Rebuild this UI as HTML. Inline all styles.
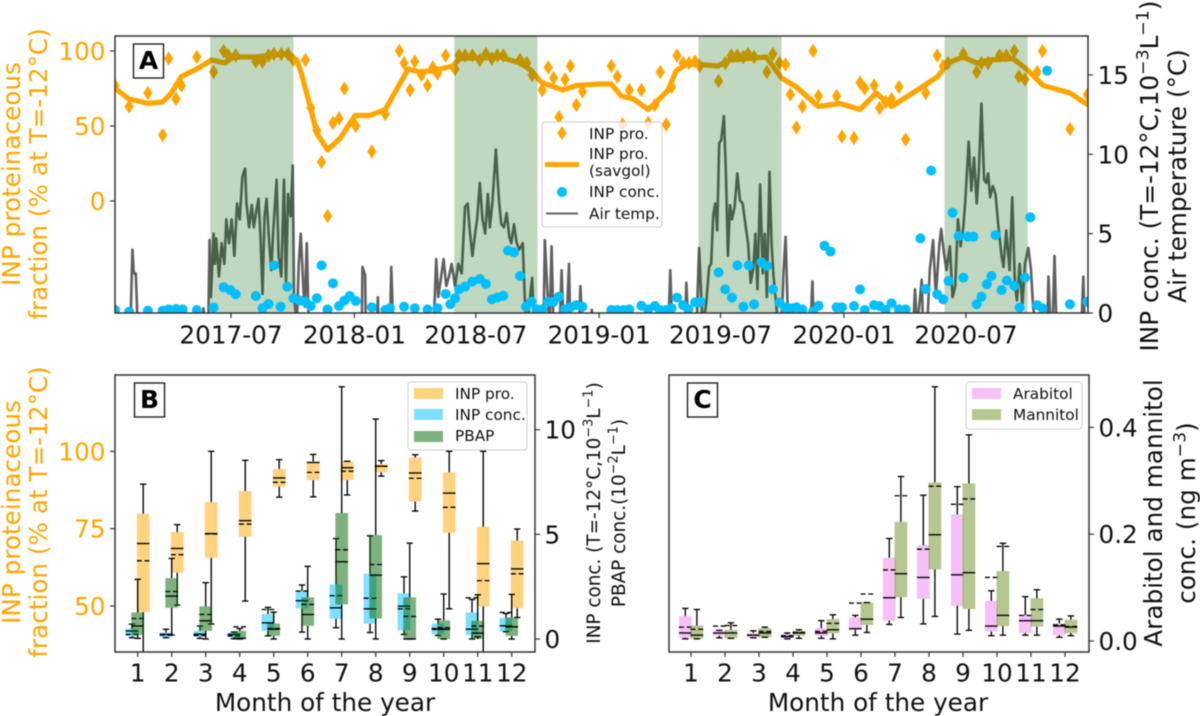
<!DOCTYPE html>
<html lang="en">
<head>
<meta charset="utf-8">
<title>INP proteinaceous fraction seasonal chart</title>
<style>
html,body{margin:0;padding:0;background:#fff;}
svg{display:block;font-family:"DejaVu Sans","Liberation Sans",sans-serif;filter:blur(0.4px);}
.tk{font-size:24.7px;fill:#111;}
.or{fill:#ffa500;}
.lg{font-size:15.3px;fill:#111;}
.yl{text-anchor:middle;}
</style>
</head>
<body>
<svg id="chart" xmlns="http://www.w3.org/2000/svg" width="1200" height="716" viewBox="0 0 1200 716">
  <defs>
    <clipPath id="clipA"><rect x="115" y="36" width="973" height="277"/></clipPath>
    <clipPath id="clipB"><rect x="115" y="375" width="420" height="277"/></clipPath>
    <clipPath id="clipC"><rect x="669" y="375" width="420" height="277"/></clipPath>
  </defs>
  <rect width="1200" height="716" fill="#fff"/>
  <g id="markerA" clip-path="url(#clipA)"></g>
  <g id="spansA" clip-path="url(#clipA)"></g>
  <g id="dotsA" clip-path="url(#clipA)"></g>
  <g id="boxesB" clip-path="url(#clipB)"></g>
  <g id="boxesC" clip-path="url(#clipC)"></g>
  <rect x="115" y="36" width="973" height="277" fill="none" stroke="#333" stroke-width="1.5"/>
  <rect x="115" y="375" width="420" height="277" fill="none" stroke="#333" stroke-width="1.5"/>
  <rect x="669" y="375" width="420" height="277" fill="none" stroke="#333" stroke-width="1.5"/>
  <g id="axes"></g>

  <text class="yl or" font-size="24.7" transform="translate(20,174) rotate(-90)">INP proteinaceous</text>
  <text class="yl or" font-size="24.7" transform="translate(47,174) rotate(-90)">fraction (% at T=-12°C)</text>
  <text class="yl" fill="#111" font-size="24.7" transform="translate(1158,176) rotate(-90)">INP conc. (T=-12°C,10<tspan dy="-9.5" font-size="17.3">−3</tspan><tspan dy="9.5">L</tspan><tspan dy="-9.5" font-size="17.3">−1</tspan><tspan dy="9.5">)</tspan></text>
  <text class="yl" fill="#111" font-size="24.7" transform="translate(1186,176) rotate(-90)">Air temperature (°C)</text>

  <text class="yl or" font-size="24.7" transform="translate(20,512) rotate(-90)">INP proteinaceous</text>
  <text class="yl or" font-size="24.7" transform="translate(47,512) rotate(-90)">fraction (% at T=-12°C)</text>
  <text class="yl" fill="#111" font-size="18.4" transform="translate(600,513) rotate(-90)">INP conc. (T=-12°C,10<tspan dy="-7.3" font-size="12.9">−3</tspan><tspan dy="7.3">L</tspan><tspan dy="-7.3" font-size="12.9">−1</tspan><tspan dy="7.3">)</tspan></text>
  <text class="yl" fill="#111" font-size="18.4" transform="translate(625,513) rotate(-90)">PBAP conc.(10<tspan dy="-7.3" font-size="12.9">−2</tspan><tspan dy="7.3">L</tspan><tspan dy="-7.3" font-size="12.9">−1</tspan><tspan dy="7.3">)</tspan></text>
  <text class="yl" fill="#111" font-size="24.7" transform="translate(1162,513) rotate(-90)">Arabitol and mannitol</text>
  <text class="yl" fill="#111" font-size="24.7" transform="translate(1195,513) rotate(-90)">conc. (ng m<tspan dy="-9.5" font-size="17.3">−3</tspan><tspan dy="9.5">)</tspan></text>
  <text x="325" y="711" text-anchor="middle" fill="#111" font-size="24.7">Month of the year</text>
  <text x="878" y="711" text-anchor="middle" fill="#111" font-size="24.7">Month of the year</text>

  <g>
    <rect x="133.5" y="44" width="30" height="34" fill="#fff" stroke="#111" stroke-width="1.3"/>
    <text x="148.5" y="69" text-anchor="middle" font-size="25" font-weight="bold" fill="#000">A</text>
  </g>
  <g>
    <rect x="134.5" y="383" width="30" height="34" fill="#fff" stroke="#111" stroke-width="1.3"/>
    <text x="149.5" y="408" text-anchor="middle" font-size="25" font-weight="bold" fill="#000">B</text>
  </g>
  <g>
    <rect x="687.5" y="383" width="30" height="34" fill="#fff" stroke="#111" stroke-width="1.3"/>
    <text x="702.5" y="408" text-anchor="middle" font-size="25" font-weight="bold" fill="#000">C</text>
  </g>

  <g>
    <rect x="542" y="122" width="120" height="105" rx="3" fill="#fff" fill-opacity="0.8" stroke="#ccc" stroke-width="1"/>
    <path d="M562 126L566.6 133L562 140L557.4 133Z" fill="#ffa500"/>
    <text class="lg" x="589" y="139">INP pro.</text>
    <line x1="545" x2="579" y1="164.5" y2="164.5" stroke="#ffa500" stroke-width="5"/>
    <text class="lg" x="589" y="159">INP pro.<tspan x="589" dy="17">(savgol)</tspan></text>
    <circle cx="562" cy="192" r="5" fill="#00bfff"/>
    <text class="lg" x="589" y="197">INP conc.</text>
    <line x1="546" x2="578" y1="213.5" y2="213.5" stroke="#666" stroke-width="2"/>
    <text class="lg" x="589" y="219">Air temp.</text>
  </g>

  <g>
    <rect x="408" y="382" width="119" height="68" rx="3" fill="#fff" fill-opacity="0.8" stroke="#ccc" stroke-width="1"/>
    <rect x="414" y="388" width="29" height="11" fill="#ffa500" fill-opacity="0.5"/>
    <text class="lg" x="455" y="399">INP pro.</text>
    <rect x="414" y="409" width="29" height="11" fill="#00bfff" fill-opacity="0.5"/>
    <text class="lg" x="455" y="420">INP conc.</text>
    <rect x="414" y="431" width="29" height="11" fill="#006400" fill-opacity="0.5"/>
    <text class="lg" x="455" y="441">PBAP</text>
  </g>

  <g>
    <rect x="966" y="382" width="116" height="47" rx="3" fill="#fff" fill-opacity="0.8" stroke="#ccc" stroke-width="1"/>
    <rect x="972" y="388" width="29" height="11" fill="#ee82ee" fill-opacity="0.5"/>
    <text class="lg" x="1013" y="399">Arabitol</text>
    <rect x="972" y="409" width="29" height="11" fill="#6b8e23" fill-opacity="0.5"/>
    <text class="lg" x="1013" y="420">Mannitol</text>
  </g>
</svg>

<script>
// ---------- Panel A data (x = days after the left edge of the time axis) ----------
const dateTickDays = [173, 357, 538, 722, 903, 1087, 1269];
const dateTickLabels = ["2017-07", "2018-01", "2018-07", "2019-01", "2019-07", "2020-01", "2020-07"];
const proTickValues = [0, 50, 100];
const tempTickValues = [0, 5, 10, 15];
const summerStartDays = [142, 506, 870, 1237];
const summerEndDays = [266, 630, 994, 1361];

const proDays = [0,21,49,71,80,91,99,122,147,162,169,180,210,220,229,237,248,258,266,284,292,301,308,317,325,334,342,359,383,403,424,431,440,447,457,466,474,481,493,507,513,522,533,544,553,562,570,579,604,614,622,637,646,654,662,666,671,679,688,697,
  740,749,757,767,785,795,805,813,822,830,838,847,856,865,872,900,910,919,928,937,944,953,972,981,991,1000,1007,1016,1025,1041,1049,1076,1084,1102,1111,1118,1132,1140,1149,1158,1169,1179,1209,1226,1235,1242,1265,1285,1292,1302,1319,1329,1341,1348,1357,1375,1383,1424,1450];
const proValues = [77,63,72,44,95,68,77,96,86,100,97,97,93,93,97,98,98,98,94,94,62,47,26,-10,52,55,75,50,33,58,100,92,74,93,84,77,89,85,97,88,97,97,97,94,98,95,97,97,94,92,84,74,89,82,56,45,81,90,64,73,
  90,83,51,74,74,52,64,86,51,76,97,92,92,93,90,80,92,97,97,96,98,96,86,98,92,91,71,49,63,100,70,70,43,42,79,75,77,62,66,68,76,41,72,97,90,92,98,86,92,92,97,97,100,83,81,86,100,48,71];

const savgolDays = [0,21,50,71,84,99,122,144,164,176,209,229,256,271,278,291,301,317,336,358,380,403,417,437,455,475,504,514,574,604,621,636,668,688,723,740,755,773,795,805,825,837,852,872,899,917,971,994,1016,1049,1081,1111,1135,1158,1200,1227,1242,1265,1285,1304,1339,1359,1384,1424,1451];
const savgolValues = [75,68,65,66,72,83,88,94,92,96,96,97,98,94,85,63,45,34,42,57,57,61,72,88,86,87,90,95,96,92,87,79,74,77,78,78,70,68,61,65,74,87,91,91,90,94,96,82,76,63,65,61,72,63,75,83,92,96,92,94,95,88,77,72,64];

const concDays = [0,21,49,71,80,91,101,122,147,162,172,180,210,220,229,237,247,257,266,276,284,292,301,308,317,325,334,342,350,359,383,403,410,431,447,466,481,493,500,507,513,522,533,544,553,562,570,579,586,595,604,613,621,629,637,646,654,662,671,679,688,697,
  740,749,758,767,785,795,805,813,822,830,838,847,855,865,873,900,910,920,928,937,945,953,964,972,981,991,1000,1009,1016,1025,1041,1049,1058,1067,1076,1084,1102,1111,1118,1132,1140,1149,1158,1169,1179,1201,1209,1217,1226,1235,1243,1249,1258,1265,1272,1280,1285,1292,1300,1307,1313,1322,1330,1341,1349,1357,1365,1375,1383,1390,1424,1450];
const concValues = [.19,.08,.15,.15,.23,.25,.23,.19,.34,1.62,1.45,1.18,1.07,.3,.57,3.0,.4,1.66,.93,.78,.71,.44,.93,3.0,.23,1.87,.44,.78,1.07,.76,.36,.19,.3,.4,.3,.23,.3,1.2,.55,.93,1.49,1.66,1.98,2.14,1.83,.86,.97,1.09,3.93,3.82,2.33,.4,.71,.23,.23,.71,.71,1.03,.23,.36,.5,.4,
  .19,.19,.19,.23,.46,.23,.44,.19,.19,.3,.97,.5,.23,.67,.71,2.56,1.49,.97,3.0,.4,3.0,.55,3.2,2.96,1.49,.65,.34,.3,.36,.23,.08,.46,4.24,3.87,.36,.36,.44,1.49,.19,.5,.44,.19,.61,.23,.23,4.7,1.51,8.97,1.18,.86,2.02,6.32,4.85,2.23,4.81,4.81,.55,1.03,1.81,2.33,4.91,1.45,2.04,1.72,.34,2.23,6.03,.5,.3,15.27,.55,.71];

const airDays = [0,23,26,28,31,34,129,132,134,139,
  141,143,147,149,151,155,159,163,166,170,
  174,178,182,186,190,194,196,200,204,207,
  211,214,217,220,223,226,230,233,236,241,
  244,248,252,255,258,262,265,267,271,274,
  277,281,283,286,289,368,369,373,374,390,
  392,393,410,412,415,475,479,482,485,490,
  494,498,502,507,512,517,522,526,529,533,
  537,540,544,548,552,556,559,563,568,570,
  573,576,580,584,588,591,595,599,603,608,
  611,614,619,622,625,639,641,645,648,651,
  654,663,666,669,673,677,679,692,694,697,
  708,711,713,825,828,831,850,852,855,867,
  871,874,877,882,886,889,892,895,898,901,
  904,908,911,914,917,920,924,928,932,936,
  940,944,948,952,955,958,962,966,969,972,
  976,979,982,985,989,994,997,1000,1004,1037,
  1040,1042,1190,1193,1196,1203,1205,1211,1215,1220,
  1224,1229,1232,1236,1240,1245,1249,1253,1257,1261,
  1265,1268,1273,1277,1281,1285,1288,1292,1296,1299,
  1302,1305,1309,1313,1317,1322,1325,1329,1334,1338,
  1342,1345,1349,1353,1357,1362,1366,1369,1374,1390,
  1392,1395,1398,1401,1404,1441,1444,1446,1451];
const airValues = [-1,-1,4.0,2.5,2.5,-1,-1,.3,-1,-1,
  4.6,1.0,5.0,3.1,4.7,2.3,4.4,3.1,5.9,4.4,
  5.9,3.6,6.9,5.9,8.6,9.1,6.9,5.4,6.8,5.4,
  6.5,7.2,4.8,1.2,6.1,7.2,4.4,2.7,5.2,8.4,
  3.6,2.3,8.4,1.9,7.5,6.1,9.3,1.0,-1,3.1,
  5.0,1.5,.4,4.4,-1,-1,2.9,2.4,-1,-1,
  1.0,-1,-1,2.9,-1,-1,3.4,1.0,1.9,3.4,
  1.7,2.3,3.1,1.7,3.1,2.5,6.7,6.9,5.2,3.6,
  5.0,5.9,8.2,5.9,5.0,7.5,5.4,7.1,10.3,8.8,
  6.9,5.6,5.4,6.3,4.8,4.4,5.6,4.4,4.0,4.4,
  1.0,-1,1.0,2.2,-1,-1,4.6,1.2,-1,4.2,
  -1,-1,2.7,-1,-1,3.1,-1,-1,1.7,-1,
  -1,.2,-1,-1,2.7,-1,-1,1.9,-1,-1,
  4.1,1.2,-1,.8,2.9,3.1,6.1,6.9,5.2,10.7,
  10.9,12.4,8.8,3.6,6.8,5.9,6.7,8.8,7.1,6.9,
  5.6,4.4,1.9,2.9,5.0,1.5,8.1,2.5,5.0,1.0,
  8.9,4.4,2.3,1.0,-1,-1,2.7,4.8,-1,-1,
  2.0,-1,-1,1.5,-1,2.1,-1,-1,2.7,4.6,
  1.0,4.2,5.3,3.8,2.7,4.2,1.0,1.7,5.9,4.2,
  5.4,7.1,10.8,7.7,9.8,6.9,8.8,13.2,8.4,8.2,
  8.8,7.3,8.0,7.5,5.6,3.6,2.9,5.2,2.7,7.3,
  1.7,.8,3.1,.4,3.1,4.1,2.7,.4,-1,-1,
  2.3,-1,-1,3.6,-1,-1,2.3,-1,-1];

// ---------- Panels B and C data ----------
const months = [1,2,3,4,5,6,7,8,9,10,11,12];
const proBoxTicks = [50, 75, 100];
const concBoxTicks = [0, 5, 10];
const sugarTicks = [0, 0.2, 0.4];
const sugarTickLabels = ["0.0", "0.2", "0.4"];

// each row: low whisker, q1, median, mean, q3, high whisker
const boxInpPro = [
  [30,48,70.2,64.6,79.8,89.4],
  [50.3,60.8,68.6,66.6,73.9,76.3],
  [44.2,65.6,73.4,73.3,83.6,100],
  [51.6,72.4,77.6,76.5,87.2,97.1],
  [85.2,88.6,91.4,90,94.3,97.3],
  [85.3,90.7,96.4,93.2,96.7,99],
  [85.9,90.7,94.7,93.6,96.7,96.8],
  [92,93.2,95.2,95.2,95.9,97],
  [80.7,83.8,93,91.3,98,98.9],
  [49.1,73.7,86.5,81.9,93.2,100],
  [33.6,49.9,63.7,58.2,75.6,100],
  [46.3,49.3,62,60.4,71.2,74.9]
];
const boxInpConc = [
  [.06,.14,.38,.22,.5,.71],
  [.06,.11,.22,.19,.31,.47],
  [.03,.11,.23,.17,.39,.62],
  [.01,.06,.22,.15,.3,.33],
  [.15,.39,.77,1.41,1.19,1.51],
  [.33,1.46,1.83,2.29,2.3,2.58],
  [.54,.97,1.49,2.07,2.61,4.8],
  [.31,.73,1.44,1.95,3.12,4.93],
  [.22,.42,1.57,1.44,2.18,2.97],
  [.17,.23,.46,.5,.74,.95],
  [0,.19,.47,1.97,1.27,1.89],
  [.35,.35,.63,1.27,1.01,1.22]
];
const boxPbap = [
  [.03,.19,.62,.98,1.27,2.85],
  [.19,1.49,2.05,2.27,2.91,3.85],
  [0,.39,.87,1.17,1.56,2.69],
  [0,0,.03,.58,.39,.5],
  [0,.15,.47,.5,.74,1.28],
  [0,.63,1.17,1.65,1.99,3.47],
  [0,1.65,3.69,4.26,6.02,12.05],
  [0,.98,3.05,3.56,4.96,10.51],
  [0,0,0,1.08,1.99,4.58],
  [0,0,.46,.54,.89,2.15],
  [.11,0,.28,.62,.87,2.11],
  [0,.15,.58,.58,1.03,2.13]
];
const boxArabitol = [
  [.004,.006,.015,.026,.047,.061],
  [.006,.010,.015,.028,.019,.020],
  [.006,.007,.011,.011,.015,.019],
  [.004,.005,.008,.010,.012,.015],
  [.005,.010,.015,.018,.024,.038],
  [.011,.021,.023,.071,.044,.048],
  [.031,.038,.081,.133,.156,.192],
  [.032,.079,.119,.172,.179,.273],
  [.013,.066,.124,.256,.237,.289],
  [.010,.018,.028,.119,.075,.094],
  [.011,.015,.038,.048,.048,.083],
  [.007,.011,.028,.030,.033,.041]
];
const boxMannitol = [
  [.004,.004,.011,.022,.029,.059],
  [.005,.005,.015,.029,.021,.034],
  [.007,.007,.015,.018,.024,.026],
  [.005,.010,.015,.016,.019,.021],
  [.004,.014,.021,.033,.041,.049],
  [.016,.030,.041,.088,.072,.072],
  [.044,.082,.126,.272,.223,.308],
  [.046,.134,.199,.290,.297,.476],
  [.020,.060,.128,.266,.295,.386],
  [.011,.028,.048,.177,.131,.183],
  [.011,.027,.038,.059,.080,.096],
  [.010,.015,.026,.027,.040,.047]
];

// ---------- Axis functions ----------
const xDay = d => 115 + d * 0.6706;
const yPro = v => 201 - v * 1.5;
const yTemp = t => 313 - t * 15.87;
const xMonthB = m => 137.7 + (m - 1) * 34;
const yProB = v => 606 - (v - 50) * 3.093;
const yConcB = v => 639 - v * 20.93;
const xMonthC = m => 691 + (m - 1) * 34;
const ySugar = v => 641 - v * 534;

const NS = "http://www.w3.org/2000/svg";
function mk(tag, attrs, parent) {
  const el = document.createElementNS(NS, tag);
  for (const k in attrs) el.setAttribute(k, attrs[k]);
  parent.appendChild(el);
  return el;
}

// ---------- Panel A ----------
const under = document.getElementById("markerA");
proDays.forEach((d, i) => {
  const x = xDay(d), y = yPro(proValues[i]);
  const m = mk("path", {d: `M${x} ${y-7.2}L${x+4.6} ${y}L${x} ${y+7.2}L${x-4.6} ${y}Z`, fill: "#ffa500"}, under);
  
  
});
const savgolLine = mk("polyline", {
  points: savgolDays.map((d, i) => xDay(d) + "," + yPro(savgolValues[i])).join(" "),
  fill: "none", stroke: "#ffa500", "stroke-width": 5.2, "stroke-linejoin": "round"
}, under);


const airLine = mk("polyline", {
  points: airDays.map((d, i) => xDay(d) + "," + yTemp(airValues[i])).join(" "),
  fill: "none", stroke: "#606060", "stroke-width": 2.6, "stroke-linejoin": "round"
}, under);



const spans = document.getElementById("spansA");
summerStartDays.forEach((s, i) => {
  const r = mk("rect", {x: xDay(s), y: 36, width: xDay(summerEndDays[i]) - xDay(s), height: 277, fill: "#006400", "fill-opacity": 0.25}, spans);
  
  
});

const dots = document.getElementById("dotsA");
concDays.forEach((d, i) => {
  const c = mk("circle", {cx: xDay(d), cy: yTemp(concValues[i]), r: 5, fill: "#00bfff"}, dots);
  
  
});

// ---------- Boxplots ----------
function drawBoxes(parent, rows, xFn, yFn, offset, colour, name) {
  rows.forEach((s, i) => {
    const cx = xFn(months[i]) + offset, w = 12.7, cap = 3.2;
    const g = mk("g", {}, parent);
    
    
    const [lo, q1, med, mean, q3, hi] = s.map(yFn);
    mk("rect", {x: cx - w/2, y: Math.min(q1, q3), width: w, height: Math.abs(q1 - q3), fill: colour, "fill-opacity": 0.5}, g);
    const st = {stroke: "#000", "stroke-width": 1.35};
    mk("line", Object.assign({x1: cx, x2: cx, y1: q3, y2: hi}, st), g);
    mk("line", Object.assign({x1: cx, x2: cx, y1: q1, y2: lo}, st), g);
    mk("line", Object.assign({x1: cx - cap, x2: cx + cap, y1: hi, y2: hi}, st), g);
    mk("line", Object.assign({x1: cx - cap, x2: cx + cap, y1: lo, y2: lo}, st), g);
    mk("line", Object.assign({x1: cx - w/2, x2: cx + w/2, y1: med, y2: med}, st), g);
    mk("line", Object.assign({x1: cx - w/2, x2: cx + w/2, y1: mean, y2: mean, "stroke-dasharray": "5 2.7"}, st), g);
  });
}
const boxesB = document.getElementById("boxesB");
drawBoxes(boxesB, boxInpPro, xMonthB, yProB, 5.5, "#ffa500", "inp-pro-box");
drawBoxes(boxesB, boxInpConc, xMonthB, yConcB, -5.7, "#00bfff", "inp-conc-box");
drawBoxes(boxesB, boxPbap, xMonthB, yConcB, 0, "#006400", "pbap-box");
const boxesC = document.getElementById("boxesC");
drawBoxes(boxesC, boxArabitol, xMonthC, ySugar, -5.7, "#ee82ee", "arabitol-box");
drawBoxes(boxesC, boxMannitol, xMonthC, ySugar, 5.9, "#6b8e23", "mannitol-box");

// ---------- Ticks ----------
const axes = document.getElementById("axes");
function xTick(x, yBase, label, name, labelY) {
  const l = mk("line", {x1: x, x2: x, y1: yBase, y2: yBase + 5, stroke: "#333", "stroke-width": 1.2}, axes);
  
  
  const t = mk("text", {x: x, y: labelY, "text-anchor": "middle", class: "tk"}, axes);
  t.textContent = label;
  
  
}
function yTick(xEdge, y, label, side, cls, name) {
  const dir = side === "left" ? -1 : 1;
  const l = mk("line", {x1: xEdge, x2: xEdge + dir * 5, y1: y, y2: y, stroke: "#333", "stroke-width": 1.2}, axes);
  
  
  const t = mk("text", {x: xEdge + dir * 9.5, y: y + 9, "text-anchor": side === "left" ? "end" : "start", class: "tk " + cls}, axes);
  t.textContent = label;
  
  
}
dateTickDays.forEach((d, i) => xTick(xDay(d), 313, dateTickLabels[i], "date-axis", 343.5));
proTickValues.forEach(v => yTick(115, yPro(v), String(v), "left", "or", "panel-a-pro-axis"));
tempTickValues.forEach(v => yTick(1088, yTemp(v), String(v), "right", "", "panel-a-temp-axis"));
months.forEach(m => xTick(xMonthB(m), 652, String(m), "panel-b-month-axis", 681.5));
months.forEach(m => xTick(xMonthC(m), 652, String(m), "panel-c-month-axis", 681.5));
proBoxTicks.forEach(v => yTick(115, yProB(v), String(v), "left", "or", "panel-b-pro-axis"));
concBoxTicks.forEach(v => yTick(535, yConcB(v), String(v), "right", "", "panel-b-conc-axis"));
sugarTicks.forEach((v, i) => yTick(1089, ySugar(v), sugarTickLabels[i], "right", "", "panel-c-sugar-axis"));
</script>
</body>
</html>
